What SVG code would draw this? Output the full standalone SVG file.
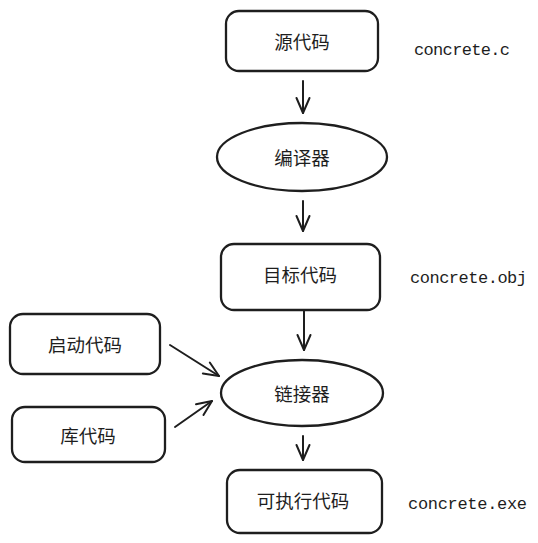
<svg xmlns="http://www.w3.org/2000/svg" width="538" height="543" viewBox="0 0 538 543">
<style>
.n{fill:#fff;stroke:#1e1e1e;stroke-width:2.3}
.t{font-family:"Noto Sans CJK SC","Noto Sans",sans-serif;font-size:18.5px;fill:#1e1e1e;text-anchor:middle;dominant-baseline:central}
.l{font-family:"Liberation Mono","Noto Sans",monospace;font-size:17px;fill:#1e1e1e;dominant-baseline:central}
.c{fill:none;stroke:#1e1e1e;stroke-width:2;stroke-linecap:round}
</style>
<defs>
<marker id="a" viewBox="0 0 20 20" refX="18" refY="10" markerWidth="20" markerHeight="20" markerUnits="userSpaceOnUse" orient="auto">
<path d="M3 3.5 L18 10 L3 16.5" fill="none" stroke="#1e1e1e" stroke-width="2" stroke-linecap="round" stroke-linejoin="round"/>
</marker>
</defs>
<rect width="538" height="543" fill="#fff"/>
<g id="connectors">
<line class="c" x1="303" y1="81" x2="303" y2="113" marker-end="url(#a)"/>
<line class="c" x1="303" y1="201" x2="303" y2="231" marker-end="url(#a)"/>
<line class="c" x1="304" y1="311" x2="304" y2="350" marker-end="url(#a)"/>
<line class="c" x1="170" y1="345" x2="219" y2="376" marker-end="url(#a)"/>
<line class="c" x1="175" y1="427" x2="212" y2="401" marker-end="url(#a)"/>
<line class="c" x1="303" y1="436" x2="303" y2="460" marker-end="url(#a)"/>
</g>
<g id="src"><rect class="n" x="226" y="11" width="152" height="60" rx="13"/><text class="t" x="302" y="41">源代码</text></g>
<g id="compiler"><ellipse class="n" cx="302" cy="157" rx="85" ry="34"/><text class="t" x="302" y="157">编译器</text></g>
<g id="obj"><rect class="n" x="221" y="244" width="159" height="66" rx="13"/><text class="t" x="300" y="274">目标代码</text></g>
<g id="startup"><rect class="n" x="10" y="314" width="150" height="60" rx="13"/><text class="t" x="85" y="344">启动代码</text></g>
<g id="lib"><rect class="n" x="12" y="407" width="153" height="55" rx="13"/><text class="t" x="88" y="435">库代码</text></g>
<g id="linker"><ellipse class="n" cx="302" cy="393" rx="81" ry="33"/><text class="t" x="302" y="393">链接器</text></g>
<g id="exe"><rect class="n" x="227" y="470" width="155" height="63" rx="13"/><text class="t" x="303" y="500">可执行代码</text></g>
<g id="labels">
<text class="l" x="414" y="50" textLength="96">concrete.c</text>
<text class="l" x="410" y="278" textLength="117">concrete.obj</text>
<text class="l" x="408" y="504" textLength="119">concrete.exe</text>
</g>
</svg>
